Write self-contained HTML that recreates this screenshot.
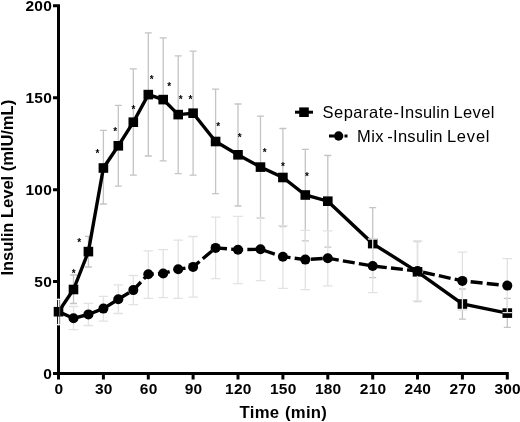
<!DOCTYPE html><html><head><meta charset="utf-8"><style>html,body{margin:0;padding:0;background:#fff;}svg{display:block;}</style></head><body><svg width="520" height="422" viewBox="0 0 520 422">
<rect width="520" height="422" fill="#fff"/>
<path d="M58.5 4.3V379.5 M56.5 373.5H508.8 M53 373.5H58.5 M53 281.6H58.5 M53 189.7H58.5 M53 97.7H58.5 M53 5.8H58.5 M58.5 373.5V379.5 M103.4 373.5V379.5 M148.3 373.5V379.5 M193.1 373.5V379.5 M238.0 373.5V379.5 M282.9 373.5V379.5 M327.8 373.5V379.5 M372.7 373.5V379.5 M417.5 373.5V379.5 M462.4 373.5V379.5 M507.3 373.5V379.5" stroke="#000" stroke-width="3" fill="none" stroke-linecap="butt"/>
<path d="M73.5 275.0V303.5M70.0 275.0H77.0M70.0 303.5H77.0" stroke="#c4c4c4" stroke-width="1.3" fill="none"/>
<path d="M88.4 236.4V267.0M84.9 236.4H91.9M84.9 267.0H91.9" stroke="#c4c4c4" stroke-width="1.3" fill="none"/>
<path d="M103.4 130.3V204.0M99.9 130.3H106.9M99.9 204.0H106.9" stroke="#c4c4c4" stroke-width="1.3" fill="none"/>
<path d="M118.3 105.4V186.2M114.8 105.4H121.8M114.8 186.2H121.8" stroke="#c4c4c4" stroke-width="1.3" fill="none"/>
<path d="M133.3 68.8V175.2M129.8 68.8H136.8M129.8 175.2H136.8" stroke="#c4c4c4" stroke-width="1.3" fill="none"/>
<path d="M148.3 32.8V156.0M144.8 32.8H151.8M144.8 156.0H151.8" stroke="#c4c4c4" stroke-width="1.3" fill="none"/>
<path d="M163.2 37.8V160.8M159.7 37.8H166.7M159.7 160.8H166.7" stroke="#c4c4c4" stroke-width="1.3" fill="none"/>
<path d="M178.2 55.8V173.7M174.7 55.8H181.7M174.7 173.7H181.7" stroke="#c4c4c4" stroke-width="1.3" fill="none"/>
<path d="M193.1 51.2V175.2M189.6 51.2H196.6M189.6 175.2H196.6" stroke="#c4c4c4" stroke-width="1.3" fill="none"/>
<path d="M215.6 89.2V193.7M212.1 89.2H219.1M212.1 193.7H219.1" stroke="#c4c4c4" stroke-width="1.3" fill="none"/>
<path d="M238.0 104.0V206.0M234.5 104.0H241.5M234.5 206.0H241.5" stroke="#c4c4c4" stroke-width="1.3" fill="none"/>
<path d="M260.5 116.2V218.0M257.0 116.2H264.0M257.0 218.0H264.0" stroke="#c4c4c4" stroke-width="1.3" fill="none"/>
<path d="M282.9 128.5V226.5M279.4 128.5H286.4M279.4 226.5H286.4" stroke="#c4c4c4" stroke-width="1.3" fill="none"/>
<path d="M305.3 149.4V240.8M301.8 149.4H308.8M301.8 240.8H308.8" stroke="#c4c4c4" stroke-width="1.3" fill="none"/>
<path d="M327.8 155.5V247.2M324.3 155.5H331.3M324.3 247.2H331.3" stroke="#c4c4c4" stroke-width="1.3" fill="none"/>
<path d="M372.7 207.6V277.7M369.2 207.6H376.2M369.2 277.7H376.2" stroke="#c4c4c4" stroke-width="1.3" fill="none"/>
<path d="M417.5 241.5V301.7M414.0 241.5H421.0M414.0 301.7H421.0" stroke="#c4c4c4" stroke-width="1.3" fill="none"/>
<path d="M462.4 289.0V319.2M458.9 289.0H465.9M458.9 319.2H465.9" stroke="#c4c4c4" stroke-width="1.3" fill="none"/>
<path d="M507.3 298.4V327.3M503.8 298.4H510.8M503.8 327.3H510.8" stroke="#c4c4c4" stroke-width="1.3" fill="none"/>
<path d="M58.5 311.7 L73.5 289.5 L88.4 251.6 L103.4 168.0 L118.3 145.8 L133.3 122.2 L148.3 94.6 L163.2 99.6 L178.2 114.6 L193.1 113.2 L215.6 141.5 L238.0 154.8 L260.5 167.1 L282.9 177.5 L305.3 195.0 L327.8 201.2 L372.7 243.6 L417.5 271.8 L462.4 304.0 L507.3 313.1" stroke="#000" stroke-width="3.4" fill="none" stroke-linejoin="miter"/>
<rect x="53.7" y="306.9" width="9.6" height="9.6" fill="#000"/>
<rect x="68.7" y="284.7" width="9.6" height="9.6" fill="#000"/>
<rect x="83.6" y="246.8" width="9.6" height="9.6" fill="#000"/>
<rect x="98.6" y="163.2" width="9.6" height="9.6" fill="#000"/>
<rect x="113.5" y="141.0" width="9.6" height="9.6" fill="#000"/>
<rect x="128.5" y="117.4" width="9.6" height="9.6" fill="#000"/>
<rect x="143.5" y="89.8" width="9.6" height="9.6" fill="#000"/>
<rect x="158.4" y="94.8" width="9.6" height="9.6" fill="#000"/>
<rect x="173.4" y="109.8" width="9.6" height="9.6" fill="#000"/>
<rect x="188.3" y="108.4" width="9.6" height="9.6" fill="#000"/>
<rect x="210.8" y="136.7" width="9.6" height="9.6" fill="#000"/>
<rect x="233.2" y="150.0" width="9.6" height="9.6" fill="#000"/>
<rect x="255.7" y="162.3" width="9.6" height="9.6" fill="#000"/>
<rect x="278.1" y="172.7" width="9.6" height="9.6" fill="#000"/>
<rect x="300.5" y="190.2" width="9.6" height="9.6" fill="#000"/>
<rect x="323.0" y="196.4" width="9.6" height="9.6" fill="#000"/>
<rect x="367.9" y="238.8" width="9.6" height="9.6" fill="#000"/>
<rect x="412.7" y="267.0" width="9.6" height="9.6" fill="#000"/>
<rect x="457.6" y="299.2" width="9.6" height="9.6" fill="#000"/>
<rect x="502.5" y="308.3" width="9.6" height="9.6" fill="#000"/>
<path d="M58.5 311.7 L73.5 318.3 L88.4 314.4 L103.4 308.6 L118.3 299.3 L133.3 290.1 L148.3 274.2 L163.2 273.5 L178.2 269.2 L193.1 266.9 L215.6 247.9 L238.0 249.7 L260.5 249.3 L282.9 256.7 L305.3 259.6 L327.8 258.2 L372.7 266.0 L417.5 271.0 L462.4 280.9 L507.3 285.6" stroke="#000" stroke-width="3.4" fill="none" stroke-dasharray="12.0 4.2" stroke-dashoffset="15.04"/>
<path d="M73.5 306.5V329.6M68.7 306.5H78.3M68.7 329.6H78.3" stroke="#e2e2e2" stroke-width="1.3" fill="none"/>
<path d="M88.4 303.3V325.5M83.6 303.3H93.2M83.6 325.5H93.2" stroke="#e2e2e2" stroke-width="1.3" fill="none"/>
<path d="M103.4 296.3V321.1M98.6 296.3H108.2M98.6 321.1H108.2" stroke="#e2e2e2" stroke-width="1.3" fill="none"/>
<path d="M118.3 284.8V313.5M113.5 284.8H123.1M113.5 313.5H123.1" stroke="#e2e2e2" stroke-width="1.3" fill="none"/>
<path d="M133.3 275.5V304.6M128.5 275.5H138.1M128.5 304.6H138.1" stroke="#e2e2e2" stroke-width="1.3" fill="none"/>
<path d="M148.3 250.8V298.4M143.5 250.8H153.1M143.5 298.4H153.1" stroke="#e2e2e2" stroke-width="1.3" fill="none"/>
<path d="M163.2 249.6V297.7M158.4 249.6H168.0M158.4 297.7H168.0" stroke="#e2e2e2" stroke-width="1.3" fill="none"/>
<path d="M178.2 240.1V298.4M173.4 240.1H183.0M173.4 298.4H183.0" stroke="#e2e2e2" stroke-width="1.3" fill="none"/>
<path d="M193.1 236.5V297.2M188.3 236.5H197.9M188.3 297.2H197.9" stroke="#e2e2e2" stroke-width="1.3" fill="none"/>
<path d="M215.6 217.1V278.7M210.8 217.1H220.4M210.8 278.7H220.4" stroke="#e2e2e2" stroke-width="1.3" fill="none"/>
<path d="M238.0 216.3V283.6M233.2 216.3H242.8M233.2 283.6H242.8" stroke="#e2e2e2" stroke-width="1.3" fill="none"/>
<path d="M260.5 217.8V280.6M255.7 217.8H265.3M255.7 280.6H265.3" stroke="#e2e2e2" stroke-width="1.3" fill="none"/>
<path d="M282.9 225.6V288.4M278.1 225.6H287.7M278.1 288.4H287.7" stroke="#e2e2e2" stroke-width="1.3" fill="none"/>
<path d="M305.3 230.3V289.6M300.5 230.3H310.1M300.5 289.6H310.1" stroke="#e2e2e2" stroke-width="1.3" fill="none"/>
<path d="M327.8 230.8V285.8M323.0 230.8H332.6M323.0 285.8H332.6" stroke="#e2e2e2" stroke-width="1.3" fill="none"/>
<path d="M372.7 239.0V292.7M367.9 239.0H377.5M367.9 292.7H377.5" stroke="#e2e2e2" stroke-width="1.3" fill="none"/>
<path d="M417.5 241.0V301.0M412.7 241.0H422.3M412.7 301.0H422.3" stroke="#e2e2e2" stroke-width="1.3" fill="none"/>
<path d="M462.4 252.2V310.0M457.6 252.2H467.2M457.6 310.0H467.2" stroke="#e2e2e2" stroke-width="1.3" fill="none"/>
<path d="M507.3 258.7V312.6M502.5 258.7H512.1M502.5 312.6H512.1" stroke="#e2e2e2" stroke-width="1.3" fill="none"/>
<circle cx="73.5" cy="318.3" r="5.0" fill="#000"/>
<circle cx="88.4" cy="314.4" r="5.0" fill="#000"/>
<circle cx="103.4" cy="308.6" r="5.0" fill="#000"/>
<circle cx="118.3" cy="299.3" r="5.0" fill="#000"/>
<circle cx="133.3" cy="290.1" r="5.0" fill="#000"/>
<circle cx="148.3" cy="274.2" r="5.0" fill="#000"/>
<circle cx="163.2" cy="273.5" r="5.0" fill="#000"/>
<circle cx="178.2" cy="269.2" r="5.0" fill="#000"/>
<circle cx="193.1" cy="266.9" r="5.0" fill="#000"/>
<circle cx="215.6" cy="247.9" r="5.0" fill="#000"/>
<circle cx="238.0" cy="249.7" r="5.0" fill="#000"/>
<circle cx="260.5" cy="249.3" r="5.0" fill="#000"/>
<circle cx="282.9" cy="256.7" r="5.0" fill="#000"/>
<circle cx="305.3" cy="259.6" r="5.0" fill="#000"/>
<circle cx="327.8" cy="258.2" r="5.0" fill="#000"/>
<circle cx="372.7" cy="266.0" r="5.0" fill="#000"/>
<circle cx="417.5" cy="271.0" r="5.0" fill="#000"/>
<circle cx="462.4" cy="280.9" r="5.0" fill="#000"/>
<circle cx="507.3" cy="285.6" r="5.0" fill="#000"/>
<path d="M58.5 298.6V306.9M58.5 316.5V325.4M55 299.3H62.4M55 324.7H62.4" stroke="#f4f4f4" stroke-width="1.2" fill="none"/>
<path d="M59.7 300V306.9M59.7 316.5V324" stroke="#a8a8a8" stroke-width="1.1" fill="none"/>
<path d="M59.7 306.9V316.5" stroke="#5a5a5a" stroke-width="1.1" fill="none"/>
<text x="73.6" y="276.9" font-family="Liberation Sans" font-weight="bold" font-size="10" text-anchor="middle" fill="#000">*</text>
<text x="79.2" y="246.0" font-family="Liberation Sans" font-weight="bold" font-size="10" text-anchor="middle" fill="#000">*</text>
<text x="97.4" y="157.0" font-family="Liberation Sans" font-weight="bold" font-size="10" text-anchor="middle" fill="#000">*</text>
<text x="115.2" y="134.5" font-family="Liberation Sans" font-weight="bold" font-size="10" text-anchor="middle" fill="#000">*</text>
<text x="133.5" y="112.5" font-family="Liberation Sans" font-weight="bold" font-size="10" text-anchor="middle" fill="#000">*</text>
<text x="151.6" y="83.0" font-family="Liberation Sans" font-weight="bold" font-size="10" text-anchor="middle" fill="#000">*</text>
<text x="169.3" y="90.2" font-family="Liberation Sans" font-weight="bold" font-size="10" text-anchor="middle" fill="#000">*</text>
<text x="180.7" y="102.6" font-family="Liberation Sans" font-weight="bold" font-size="10" text-anchor="middle" fill="#000">*</text>
<text x="190.4" y="102.6" font-family="Liberation Sans" font-weight="bold" font-size="10" text-anchor="middle" fill="#000">*</text>
<text x="218.3" y="130.0" font-family="Liberation Sans" font-weight="bold" font-size="10" text-anchor="middle" fill="#000">*</text>
<text x="239.6" y="141.0" font-family="Liberation Sans" font-weight="bold" font-size="10" text-anchor="middle" fill="#000">*</text>
<text x="264.6" y="156.4" font-family="Liberation Sans" font-weight="bold" font-size="10" text-anchor="middle" fill="#000">*</text>
<text x="282.9" y="170.2" font-family="Liberation Sans" font-weight="bold" font-size="10" text-anchor="middle" fill="#000">*</text>
<text x="307.0" y="180.3" font-family="Liberation Sans" font-weight="bold" font-size="10" text-anchor="middle" fill="#000">*</text>
<text x="52.1" y="378.9" font-family="Liberation Sans" font-weight="bold" font-size="15.5" text-anchor="end" letter-spacing="0.25">0</text>
<text x="52.1" y="287.0" font-family="Liberation Sans" font-weight="bold" font-size="15.5" text-anchor="end" letter-spacing="0.25">50</text>
<text x="52.1" y="195.1" font-family="Liberation Sans" font-weight="bold" font-size="15.5" text-anchor="end" letter-spacing="0.25">100</text>
<text x="52.1" y="103.1" font-family="Liberation Sans" font-weight="bold" font-size="15.5" text-anchor="end" letter-spacing="0.25">150</text>
<text x="52.1" y="11.2" font-family="Liberation Sans" font-weight="bold" font-size="15.5" text-anchor="end" letter-spacing="0.25">200</text>
<text x="58.9" y="394" font-family="Liberation Sans" font-weight="bold" font-size="15.5" text-anchor="middle" letter-spacing="0.25">0</text>
<text x="103.8" y="394" font-family="Liberation Sans" font-weight="bold" font-size="15.5" text-anchor="middle" letter-spacing="0.25">30</text>
<text x="148.7" y="394" font-family="Liberation Sans" font-weight="bold" font-size="15.5" text-anchor="middle" letter-spacing="0.25">60</text>
<text x="193.5" y="394" font-family="Liberation Sans" font-weight="bold" font-size="15.5" text-anchor="middle" letter-spacing="0.25">90</text>
<text x="238.4" y="394" font-family="Liberation Sans" font-weight="bold" font-size="15.5" text-anchor="middle" letter-spacing="0.25">120</text>
<text x="283.3" y="394" font-family="Liberation Sans" font-weight="bold" font-size="15.5" text-anchor="middle" letter-spacing="0.25">150</text>
<text x="328.2" y="394" font-family="Liberation Sans" font-weight="bold" font-size="15.5" text-anchor="middle" letter-spacing="0.25">180</text>
<text x="373.1" y="394" font-family="Liberation Sans" font-weight="bold" font-size="15.5" text-anchor="middle" letter-spacing="0.25">210</text>
<text x="417.9" y="394" font-family="Liberation Sans" font-weight="bold" font-size="15.5" text-anchor="middle" letter-spacing="0.25">240</text>
<text x="462.8" y="394" font-family="Liberation Sans" font-weight="bold" font-size="15.5" text-anchor="middle" letter-spacing="0.25">270</text>
<text x="507.7" y="394" font-family="Liberation Sans" font-weight="bold" font-size="15.5" text-anchor="middle" letter-spacing="0.25">300</text>
<text y="418.2" font-family="Liberation Sans" font-weight="bold" font-size="16.7"><tspan x="239.6" letter-spacing="0.3">Time</tspan> <tspan x="284.9" letter-spacing="0.3">(min)</tspan></text>
<text transform="translate(13.2 275.6) rotate(-90)" font-family="Liberation Sans" font-weight="bold" font-size="16.6" letter-spacing="-0.06">Insulin Level (mIU/mL)</text>
<path d="M295 112.2H313" stroke="#000" stroke-width="3"/>
<rect x="299.2" y="107.4" width="9.6" height="9.6" fill="#000"/>
<text y="117.8" font-family="Liberation Sans" font-size="16.5"><tspan x="322.5" letter-spacing="0.5">Separate-</tspan><tspan x="400.1" letter-spacing="0.27">Insulin </tspan><tspan x="453.4" letter-spacing="0.4">Level</tspan></text>
<path d="M329 136H334M344.5 136H347.5" stroke="#000" stroke-width="3"/>
<circle cx="338.6" cy="136" r="4.7" fill="#000"/>
<text y="141.6" font-family="Liberation Sans" font-size="16.5"><tspan x="357.1" letter-spacing="0.4">Mix </tspan><tspan x="387.2" letter-spacing="0.31">-Insulin </tspan><tspan x="446.9" letter-spacing="0.8">Level</tspan></text>
</svg></body></html>
